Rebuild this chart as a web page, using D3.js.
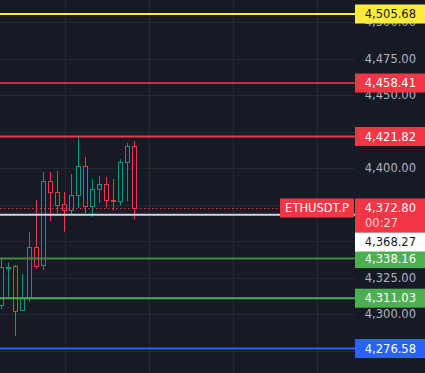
<!DOCTYPE html>
<html lang="en">
<head>
  <meta charset="UTF-8">
  <title>ETHUSDT.P</title>
  <script src="https://d3js.org/d3.v7.min.js"></script>
  <style>
    html, body { margin: 0; padding: 0; background: #161a25; overflow: hidden; }
    text { font-family: "DejaVu Sans", sans-serif; font-size: 11.5px; }
  </style>
</head>
<body>
  <svg id="chart" width="425" height="373"></svg>

  <script>
    // candles, oldest first
    const opens  = [4306.0, 4331.6, 4333.1, 4302.5, 4311.2, 4345.9, 4333.4, 4391.1, 4383.6, 4375.3,
                    4371.4, 4381.4, 4401.4, 4373.7, 4385.5, 4389.0, 4378.1, 4377.3, 4404.1, 4415.1];
    const highs  = [4337.9, 4335.5, 4333.8, 4327.6, 4356.4, 4378.3, 4397.5, 4397.5, 4398.2, 4383.8,
                    4396.1, 4421.8, 4407.7, 4392.5, 4394.7, 4394.0, 4392.7, 4406.2, 4417.3, 4418.7];
    const lows   = [4303.6, 4311.4, 4285.1, 4302.3, 4308.6, 4331.2, 4330.3, 4363.9, 4369.4, 4356.6,
                    4368.7, 4372.8, 4369.4, 4366.8, 4376.4, 4373.2, 4371.0, 4374.5, 4377.3, 4365.1];
    const closes = [4332.2, 4332.4, 4302.5, 4311.0, 4345.9, 4332.6, 4391.0, 4383.3, 4374.7, 4371.1,
                    4381.5, 4401.4, 4374.0, 4385.6, 4389.1, 4378.1, 4377.1, 4404.1, 4415.1, 4372.80];

    // horizontal levels drawn on the chart
    const levels = [4505.68, 4458.41, 4421.82, 4338.16, 4311.03, 4276.58];
    const levelLine = ["#ffeb3b", "#c2303c", "#f23645", "#3b8d3f", "#4caf50", "#2962ff"];
    const levelBox  = ["#ffeb3b", "#f23645", "#f23645", "#4caf50", "#4caf50", "#2962ff"];
    const levelText = ["#131722", "#ffffff", "#ffffff", "#ffffff", "#ffffff", "#ffffff"];

    const ticks = [4275, 4300, 4325, 4350, 4375, 4400, 4425, 4450, 4475, 4500];
    const symbol = "ETHUSDT.P";
    const lastPrice = 4372.80;
    const markPrice = 4368.27;
    const countdown = "00:27";

    const up = "#089981", down = "#f23645";
    const svg = d3.select("#chart");
    const W = 425, H = 373, axisX = 355;

    const y = d3.scaleLinear().domain([4275, 4500]).range([350.8, 22.3]);
    const x = d3.scaleLinear().domain([0, 19]).range([1.5, 134.5]);
    const fmt = d3.format(",.2f");
    const crisp = v => Math.round(v) + 0.5;

    svg.append("rect").attr("width", W).attr("height", H).attr("fill", "#161a25");

    // grid
    svg.selectAll(".hgrid").data(ticks).enter().append("line")
      .attr("x1", 0).attr("x2", axisX)
      .attr("y1", d => crisp(y(d))).attr("y2", d => crisp(y(d)))
      .attr("stroke", "#242833");
    svg.selectAll(".vgrid").data(d3.range(4)).enter().append("line")
      .attr("x1", i => crisp(x(9 + 12 * i))).attr("x2", i => crisp(x(9 + 12 * i)))
      .attr("y1", 0).attr("y2", H)
      .attr("stroke", "#242833");

    // candles
    const candles = svg.selectAll(".candle").data(d3.range(opens.length)).enter().append("g");
    candles.append("line")
      .attr("x1", i => x(i)).attr("x2", i => x(i))
      .attr("y1", i => y(highs[i])).attr("y2", i => y(lows[i]))
      .attr("stroke", i => closes[i] >= opens[i] ? up : down);
    candles.append("rect")
      .attr("x", i => x(i) - 2)
      .attr("width", 4)
      .attr("y", i => crisp(y(Math.max(opens[i], closes[i]))))
      .attr("height", i => Math.max(1, Math.round(y(Math.min(opens[i], closes[i])) - y(Math.max(opens[i], closes[i])))))
      .attr("fill", "#161a25")
      .attr("stroke", i => closes[i] >= opens[i] ? up : down);

    // price axis ticks
    svg.selectAll(".tick").data(ticks).enter().append("text")
      .attr("x", 416).attr("y", d => y(d))
      .attr("dy", "0.36em")
      .attr("text-anchor", "end")
      .attr("fill", "#b2b5be")
      .text(d => fmt(d));

    // mark price line
    svg.append("line")
      .attr("x1", 0).attr("x2", axisX)
      .attr("y1", y(markPrice)).attr("y2", y(markPrice))
      .attr("stroke", "#d1d4dc").attr("stroke-width", 2);

    // last price dotted line
    svg.append("line")
      .attr("x1", 0).attr("x2", axisX)
      .attr("y1", crisp(y(lastPrice))).attr("y2", crisp(y(lastPrice)))
      .attr("stroke", down).attr("stroke-dasharray", "1.5,2.5");

    // level lines + labels
    const lv = svg.selectAll(".level").data(d3.range(levels.length)).enter().append("g");
    lv.append("line")
      .attr("x1", 0).attr("x2", axisX)
      .attr("y1", i => y(levels[i])).attr("y2", i => y(levels[i]))
      .attr("stroke", i => levelLine[i]).attr("stroke-width", 2);
    lv.append("rect")
      .attr("x", axisX).attr("width", 75)
      .attr("y", i => y(levels[i]) - 9.5).attr("height", 19)
      .attr("fill", i => levelBox[i]);
    lv.append("text")
      .attr("x", 416).attr("y", i => y(levels[i]))
      .attr("dy", "0.36em").attr("text-anchor", "end")
      .attr("fill", i => levelText[i])
      .text(i => fmt(levels[i]));

    // symbol tag
    const ly = y(lastPrice);
    svg.append("rect")
      .attr("x", 280).attr("y", ly - 9.5).attr("width", 74).attr("height", 19)
      .attr("rx", 1).attr("fill", down);
    svg.append("text")
      .attr("x", 317).attr("y", ly).attr("dy", "0.36em")
      .attr("text-anchor", "middle").attr("fill", "#ffffff")
      .text(symbol);

    // last price label with countdown
    svg.append("rect")
      .attr("x", axisX).attr("y", ly - 9.5).attr("width", 75).attr("height", 34)
      .attr("fill", down);
    svg.append("text")
      .attr("x", 416).attr("y", ly).attr("dy", "0.36em")
      .attr("text-anchor", "end").attr("fill", "#ffffff")
      .text(fmt(lastPrice));
    svg.append("text")
      .attr("x", 365).attr("y", ly + 15).attr("dy", "0.36em")
      .attr("fill", "rgba(255,255,255,0.78)")
      .text(countdown);

    // mark price label, pushed below the last price label
    svg.append("rect")
      .attr("x", axisX).attr("y", ly + 24.5).attr("width", 75).attr("height", 19)
      .attr("fill", "#ffffff");
    svg.append("text")
      .attr("x", 416).attr("y", ly + 34).attr("dy", "0.36em")
      .attr("text-anchor", "end").attr("fill", "#131722")
      .text(fmt(markPrice));
  </script>
</body>
</html>
